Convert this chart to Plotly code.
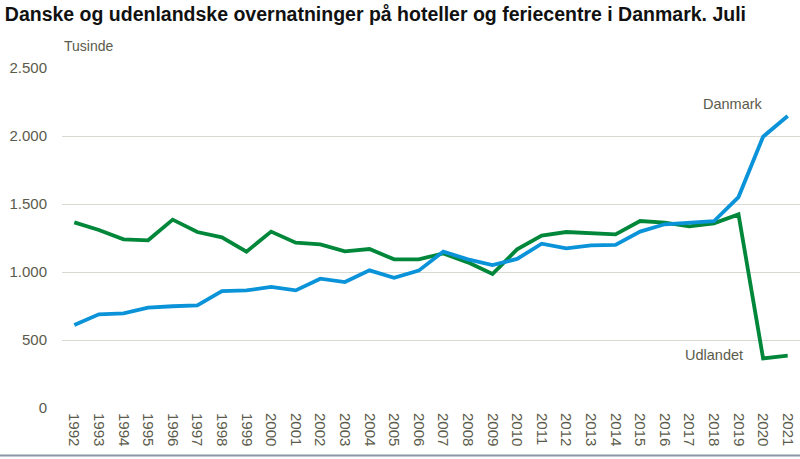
import plotly.graph_objects as go

years = list(range(1992, 2022))
danmark = [610, 689, 696, 738, 748, 755, 860, 865, 890, 865, 951, 926, 1012, 958,
           1010, 1150, 1093, 1051, 1096, 1208, 1174, 1196, 1199, 1297, 1351, 1363,
           1373, 1551, 1995, 2147]
udlandet = [1365, 1309, 1240, 1233, 1385, 1294, 1255, 1150, 1297, 1216, 1203, 1152,
            1169, 1093, 1093, 1137, 1071, 985, 1167, 1267, 1294, 1282, 1277, 1375,
            1363, 1336, 1358, 1424, 365, 385]
yticks = [0, 500, 1000, 1500, 2000, 2500]
ytick_labels = ["0", "500", "1.000", "1.500", "2.000", "2.500"]

txt = "#5b5b4b"
font = "Liberation Sans, Arial, sans-serif"

fig = go.Figure()
fig.add_trace(go.Scatter(x=years, y=udlandet, mode="lines", name="Udlandet",
                         line=dict(color="#00873a", width=3.8)))
fig.add_trace(go.Scatter(x=years, y=danmark, mode="lines", name="Danmark",
                         line=dict(color="#0a93d8", width=3.8)))

fig.update_layout(
    width=800, height=459,
    margin=dict(l=62, r=0, t=68, b=51, autoexpand=False),
    paper_bgcolor="white", plot_bgcolor="white",
    showlegend=False,
    font=dict(family=font, color=txt, size=15),
    title=dict(text="<b>Danske og udenlandske overnatninger på hoteller og feriecentre i Danmark. Juli</b>",
               x=0.006, xanchor="left", y=0.985, yanchor="top",
               font=dict(family=font, size=19.5, color="#111111")),
)
fig.update_xaxes(range=[1991.5, 2021.5], tickmode="array", tickvals=years,
                 ticktext=[str(y) for y in years], tickangle=90,
                 showgrid=False, zeroline=False, showline=False, ticks="",
                 automargin=False, ticklabelstandoff=4,
                 tickfont=dict(family=font, size=15, color=txt))
fig.update_yaxes(range=[0, 2500], tickmode="array", tickvals=yticks,
                 ticktext=ytick_labels, showgrid=True, gridcolor="#d9d9d2",
                 gridwidth=1.3, zeroline=False, showline=False, ticks="",
                 automargin=False, ticklabelstandoff=14,
                 tickfont=dict(family=font, size=15, color=txt))

fig.add_annotation(text="Tusinde", xref="paper", yref="paper", x=0.0, y=1.035,
                   xanchor="left", yanchor="bottom", showarrow=False,
                   font=dict(family=font, size=14, color=txt))
fig.add_annotation(text="Danmark", x=2018.78, y=2235, xanchor="center", yanchor="middle",
                   showarrow=False, font=dict(family=font, size=14.5, color=txt))
fig.add_annotation(text="Udlandet", x=2018.0, y=390, xanchor="center", yanchor="middle",
                   showarrow=False, font=dict(family=font, size=14.5, color=txt))
fig.add_shape(type="line", xref="paper", yref="paper", x0=-0.09, x1=1.0,
              y0=-0.14, y1=-0.14, line=dict(color="#8a96a3", width=2))

fig.write_html("out.html", config={"displayModeBar": False},
               post_script="document.body.style.margin='0';document.body.style.padding='0';")
